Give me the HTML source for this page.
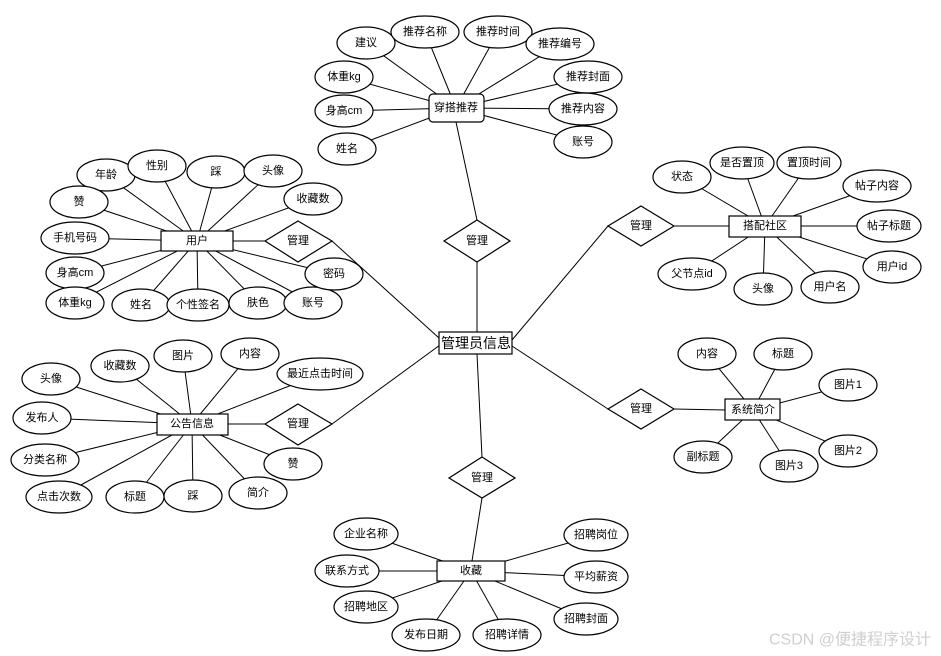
<!DOCTYPE html>
<html><head><meta charset="utf-8"><style>
html,body{margin:0;padding:0;background:#fff;}
svg{display:block;}
text{font-family:"Liberation Sans","Noto Sans CJK SC",sans-serif;font-size:11px;fill:#000;text-anchor:middle;dominant-baseline:central;}
</style></head><body>
<svg width="941" height="656" viewBox="0 0 941 656" xmlns="http://www.w3.org/2000/svg">
<g stroke="#000" stroke-width="1" fill="none">
<line x1="456" y1="108" x2="366" y2="43"/><line x1="456" y1="108" x2="425" y2="32"/><line x1="456" y1="108" x2="498" y2="32"/><line x1="456" y1="108" x2="560" y2="44"/><line x1="456" y1="108" x2="588" y2="77"/><line x1="456" y1="108" x2="583" y2="109"/><line x1="456" y1="108" x2="583" y2="142"/><line x1="456" y1="108" x2="344" y2="77"/><line x1="456" y1="108" x2="344" y2="111"/><line x1="456" y1="108" x2="347" y2="149"/>
<line x1="456" y1="122" x2="477" y2="220"/><line x1="477" y1="262" x2="477" y2="332"/>
<g><line x1="197" y1="241" x2="106" y2="175"/><line x1="197" y1="241" x2="157" y2="166"/><line x1="197" y1="241" x2="216" y2="172"/><line x1="197" y1="241" x2="273" y2="171"/><line x1="197" y1="241" x2="313" y2="199"/><line x1="197" y1="241" x2="79" y2="202"/><line x1="197" y1="241" x2="75" y2="238"/><line x1="197" y1="241" x2="75" y2="273"/><line x1="197" y1="241" x2="75" y2="303"/><line x1="197" y1="241" x2="141" y2="305"/><line x1="197" y1="241" x2="198" y2="305"/><line x1="197" y1="241" x2="258" y2="303"/><line x1="197" y1="241" x2="313" y2="303"/><line x1="197" y1="241" x2="334" y2="274"/>
<line x1="233" y1="241" x2="265" y2="241"/><line x1="332" y1="241" x2="439" y2="338"/></g>
<g><line x1="192" y1="424" x2="51" y2="379"/><line x1="192" y1="424" x2="120" y2="366"/><line x1="192" y1="424" x2="183" y2="356"/><line x1="192" y1="424" x2="250" y2="354"/><line x1="192" y1="424" x2="320" y2="374"/><line x1="192" y1="424" x2="42" y2="418"/><line x1="192" y1="424" x2="45" y2="460"/><line x1="192" y1="424" x2="59" y2="497"/><line x1="192" y1="424" x2="135" y2="497"/><line x1="192" y1="424" x2="193" y2="496"/><line x1="192" y1="424" x2="258" y2="493"/><line x1="192" y1="424" x2="293" y2="464"/>
<line x1="228" y1="424" x2="265" y2="424"/><line x1="332" y1="424" x2="440" y2="345"/></g>
<g><line x1="765" y1="226" x2="682" y2="177"/><line x1="765" y1="226" x2="742" y2="163"/><line x1="765" y1="226" x2="809" y2="163"/><line x1="765" y1="226" x2="877" y2="186"/><line x1="765" y1="226" x2="889" y2="226"/><line x1="765" y1="226" x2="892" y2="267"/><line x1="765" y1="226" x2="692" y2="274"/><line x1="765" y1="226" x2="763" y2="289"/><line x1="765" y1="226" x2="830" y2="287"/>
<line x1="674" y1="226" x2="729" y2="226"/><line x1="608" y1="226" x2="512" y2="340"/></g>
<g><line x1="753" y1="410" x2="707" y2="354"/><line x1="753" y1="410" x2="783" y2="354"/><line x1="753" y1="410" x2="848" y2="385"/><line x1="753" y1="410" x2="848" y2="451"/><line x1="753" y1="410" x2="789" y2="466"/><line x1="753" y1="410" x2="703" y2="457"/>
<line x1="674" y1="409" x2="725" y2="410"/><line x1="512" y1="346" x2="608" y2="409"/></g>
<g><line x1="471" y1="571" x2="366" y2="534"/><line x1="471" y1="571" x2="347" y2="571"/><line x1="471" y1="571" x2="366" y2="607"/><line x1="471" y1="571" x2="426" y2="635"/><line x1="471" y1="571" x2="507" y2="635"/><line x1="471" y1="571" x2="596" y2="535"/><line x1="471" y1="571" x2="596" y2="577"/><line x1="471" y1="571" x2="586" y2="619"/>
<line x1="477" y1="354" x2="482" y2="457"/><line x1="482" y1="498" x2="472" y2="561"/></g>
</g>
<g stroke="#000" stroke-width="1.2" fill="#fff">
<ellipse cx="366" cy="43" rx="29" ry="16"/><ellipse cx="425" cy="32" rx="34" ry="16"/><ellipse cx="498" cy="32" rx="34" ry="16"/><ellipse cx="560" cy="44" rx="34" ry="16"/><ellipse cx="588" cy="77" rx="34" ry="16"/><ellipse cx="583" cy="109" rx="34" ry="16"/><ellipse cx="583" cy="142" rx="29" ry="16"/><ellipse cx="344" cy="77" rx="29" ry="16"/><ellipse cx="344" cy="111" rx="29" ry="16"/><ellipse cx="347" cy="149" rx="29" ry="16"/>
<ellipse cx="106" cy="175" rx="29" ry="16"/><ellipse cx="157" cy="166" rx="29" ry="16"/><ellipse cx="216" cy="172" rx="29" ry="16"/><ellipse cx="273" cy="171" rx="29" ry="16"/><ellipse cx="313" cy="199" rx="29" ry="16"/><ellipse cx="79" cy="202" rx="29" ry="16"/><ellipse cx="75" cy="238" rx="34" ry="16"/><ellipse cx="75" cy="273" rx="29" ry="16"/><ellipse cx="75" cy="303" rx="29" ry="16"/><ellipse cx="141" cy="305" rx="29" ry="16"/><ellipse cx="198" cy="305" rx="31" ry="16"/><ellipse cx="258" cy="303" rx="29" ry="16"/><ellipse cx="313" cy="303" rx="29" ry="16"/><ellipse cx="334" cy="274" rx="29" ry="16"/>
<ellipse cx="51" cy="379" rx="29" ry="16"/><ellipse cx="120" cy="366" rx="29" ry="16"/><ellipse cx="183" cy="356" rx="29" ry="16"/><ellipse cx="250" cy="354" rx="29" ry="16"/><ellipse cx="320" cy="374" rx="43" ry="16"/><ellipse cx="42" cy="418" rx="29" ry="16"/><ellipse cx="45" cy="460" rx="34" ry="16"/><ellipse cx="59" cy="497" rx="33" ry="16"/><ellipse cx="135" cy="497" rx="29" ry="16"/><ellipse cx="193" cy="496" rx="29" ry="16"/><ellipse cx="258" cy="493" rx="29" ry="16"/><ellipse cx="293" cy="464" rx="29" ry="16"/>
<ellipse cx="682" cy="177" rx="29" ry="16"/><ellipse cx="742" cy="163" rx="32" ry="16"/><ellipse cx="809" cy="163" rx="32" ry="16"/><ellipse cx="877" cy="186" rx="34" ry="16"/><ellipse cx="889" cy="226" rx="32" ry="16"/><ellipse cx="892" cy="267" rx="29" ry="16"/><ellipse cx="692" cy="274" rx="34" ry="16"/><ellipse cx="763" cy="289" rx="29" ry="16"/><ellipse cx="830" cy="287" rx="29" ry="16"/>
<ellipse cx="707" cy="354" rx="29" ry="16"/><ellipse cx="783" cy="354" rx="29" ry="16"/><ellipse cx="848" cy="385" rx="29" ry="16"/><ellipse cx="848" cy="451" rx="29" ry="16"/><ellipse cx="789" cy="466" rx="29" ry="16"/><ellipse cx="703" cy="457" rx="29" ry="16"/>
<ellipse cx="366" cy="534" rx="32" ry="16"/><ellipse cx="347" cy="571" rx="32" ry="16"/><ellipse cx="366" cy="607" rx="32" ry="16"/><ellipse cx="426" cy="635" rx="34" ry="16"/><ellipse cx="507" cy="635" rx="34" ry="16"/><ellipse cx="596" cy="535" rx="32" ry="16"/><ellipse cx="596" cy="577" rx="32" ry="16"/><ellipse cx="586" cy="619" rx="32" ry="16"/>
<polygon points="477,220 510,241 477,262 444,241"/><polygon points="298,221 332,241 298,262 265,241"/><polygon points="298,404 332,424 298,445 265,424"/><polygon points="641,206 674,226 641,246 608,226"/><polygon points="641,389 674,409 641,429 608,409"/><polygon points="482,457 515,478 482,498 449,478"/>
<rect x="429" y="94" width="55" height="28" rx="4"/><rect x="439" y="332" width="73" height="22"/><rect x="161" y="231" width="72" height="20"/><rect x="157" y="414" width="71" height="21"/><rect x="729" y="216" width="72" height="21"/><rect x="725" y="399" width="55" height="21"/><rect x="437" y="561" width="68" height="20"/>
</g>
<g>
<text x="366" y="43">建议</text><text x="425" y="32">推荐名称</text><text x="498" y="32">推荐时间</text><text x="560" y="44">推荐编号</text><text x="588" y="77">推荐封面</text><text x="583" y="109">推荐内容</text><text x="583" y="142">账号</text><text x="344" y="77">体重kg</text><text x="344" y="111">身高cm</text><text x="347" y="149">姓名</text>
<text x="106" y="175">年龄</text><text x="157" y="166">性别</text><text x="216" y="172">踩</text><text x="273" y="171">头像</text><text x="313" y="199">收藏数</text><text x="79" y="202">赞</text><text x="75" y="238">手机号码</text><text x="75" y="273">身高cm</text><text x="75" y="303">体重kg</text><text x="141" y="305">姓名</text><text x="198" y="305">个性签名</text><text x="258" y="303">肤色</text><text x="313" y="303">账号</text><text x="334" y="274">密码</text>
<text x="51" y="379">头像</text><text x="120" y="366">收藏数</text><text x="183" y="356">图片</text><text x="250" y="354">内容</text><text x="320" y="374">最近点击时间</text><text x="42" y="418">发布人</text><text x="45" y="460">分类名称</text><text x="59" y="497">点击次数</text><text x="135" y="497">标题</text><text x="193" y="496">踩</text><text x="258" y="493">简介</text><text x="293" y="464">赞</text>
<text x="682" y="177">状态</text><text x="742" y="163">是否置顶</text><text x="809" y="163">置顶时间</text><text x="877" y="186">帖子内容</text><text x="889" y="226">帖子标题</text><text x="892" y="267">用户id</text><text x="692" y="274">父节点id</text><text x="763" y="289">头像</text><text x="830" y="287">用户名</text>
<text x="707" y="354">内容</text><text x="783" y="354">标题</text><text x="848" y="385">图片1</text><text x="848" y="451">图片2</text><text x="789" y="466">图片3</text><text x="703" y="457">副标题</text>
<text x="366" y="534">企业名称</text><text x="347" y="571">联系方式</text><text x="366" y="607">招聘地区</text><text x="426" y="635">发布日期</text><text x="507" y="635">招聘详情</text><text x="596" y="535">招聘岗位</text><text x="596" y="577">平均薪资</text><text x="586" y="619">招聘封面</text>
<text x="477" y="241">管理</text><text x="298" y="241">管理</text><text x="298" y="424">管理</text><text x="641" y="226">管理</text><text x="641" y="409">管理</text><text x="482" y="478">管理</text>
<text x="456" y="108">穿搭推荐</text><text x="476" y="343" style="font-size:14px">管理员信息</text><text x="197" y="241">用户</text><text x="192" y="424">公告信息</text><text x="765" y="226">搭配社区</text><text x="753" y="410">系统简介</text><text x="471" y="571">收藏</text>
<text x="850" y="640" style="font-size:16px;fill:#cfcfcf">CSDN @便捷程序设计</text>
</g>
</svg>
</body></html>
